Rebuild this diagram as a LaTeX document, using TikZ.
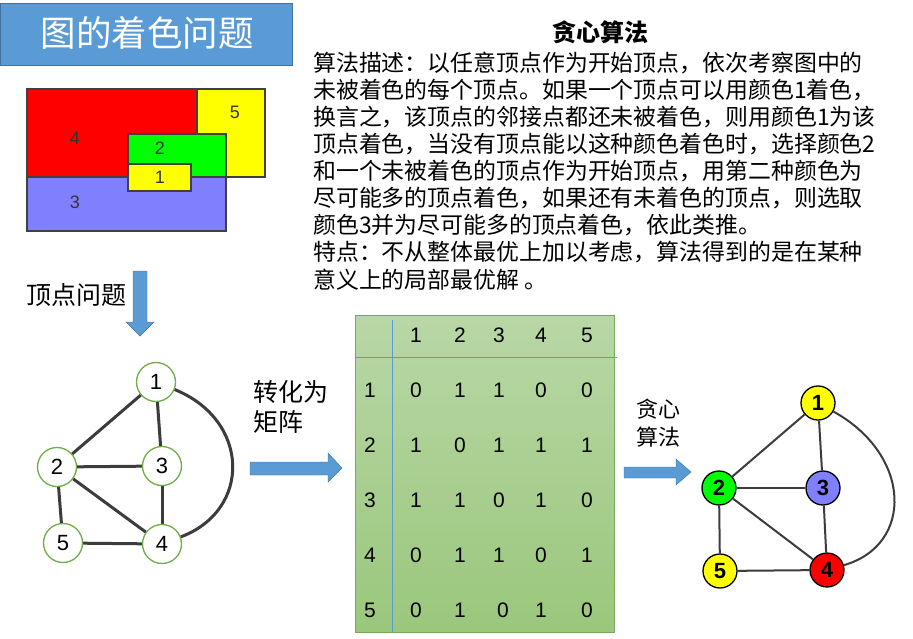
\documentclass[tikz,border=0pt]{standalone}
\usepackage{fontspec}
\setmainfont{Liberation Sans}
\newfontfamily\cjk{Noto Sans CJK SC}
\definecolor{titleblue}{RGB}{91,155,213}
\definecolor{titleborder}{RGB}{65,113,156}
\definecolor{arrowblue}{RGB}{91,155,213}
\definecolor{gborder}{RGB}{112,173,71}
\definecolor{mattop}{RGB}{184,215,166}
\definecolor{matbot}{RGB}{154,199,124}
\definecolor{matborder}{RGB}{120,170,90}
\definecolor{matline}{RGB}{91,155,213}
\definecolor{mapred}{RGB}{255,0,0}
\definecolor{mapyellow}{RGB}{255,255,0}
\definecolor{mapgreen}{RGB}{0,255,0}
\definecolor{mapblue}{RGB}{128,128,255}
\definecolor{edgegray}{RGB}{60,60,60}
\begin{document}
\begin{tikzpicture}[x=1pt,y=-1pt,
  region/.style={draw=black!75, line width=1.5pt},
  maplabel/.style={font=\fontsize{18}{18}\selectfont, text=black!80, inner sep=0pt},
  edge/.style={draw=edgegray, line width=3pt},
  cedge/.style={draw=edgegray, line width=2pt},
  gnode/.style={circle, draw=gborder, line width=1.3pt, fill=white, minimum size=39pt, inner sep=0pt, font=\fontsize{22}{22}\selectfont},
  cnode/.style={circle, draw=black, line width=1.3pt, minimum size=34pt, inner sep=0pt, font=\bfseries\fontsize{22}{22}\selectfont},
  bodytext/.style={anchor=base west, inner sep=0pt, font=\cjk\fontsize{22.9}{27}\selectfont},
  label25/.style={anchor=base west, inner sep=0pt, font=\cjk\fontsize{25}{30}\selectfont},
  label22/.style={anchor=base west, inner sep=0pt, font=\cjk\fontsize{22}{28}\selectfont},
  arrowshape/.style={fill=arrowblue, draw=titleborder, line width=0.4pt},
  matnum/.style={inner sep=0pt, font=\fontsize{21}{21}\selectfont},
  mline/.style={draw=matline, line width=0.8pt}
]
\useasboundingbox (0,0) rectangle (913,639);
\fill[white] (0,0) rectangle (913,639);

% title
\node[fill=titleblue, draw=titleborder, line width=1pt, minimum width=292pt, minimum height=62pt, anchor=north west, inner sep=0pt] (titlebox) at (0,3) {};
\node[inner sep=0pt, text=white, font=\cjk\fontsize{35.5}{36}\selectfont, anchor=base] (title) at (147,46.5) {图的着色问题};

% map
\fill[mapred] (27,89) rectangle (197,177);
\draw[region] (27,89) rectangle (197,177);
\fill[mapyellow] (197,89) rectangle (265,177);
\draw[region] (197,89) rectangle (265,177);
\fill[mapblue] (27,177) rectangle (226,231);
\draw[region] (27,177) rectangle (226,231);
\fill[mapgreen] (128,134) rectangle (226,177);
\draw[region] (128,134) rectangle (226,177);
\fill[mapyellow] (128,164) rectangle (191,191);
\draw[region] (128,164) rectangle (191,191);
\node[maplabel] (m4) at (75,138) {4};
\node[maplabel] (m5) at (235,112) {5};
\node[maplabel] (m2) at (160,148) {2};
\node[maplabel] (m1) at (160,177) {1};
\node[maplabel] (m3) at (75,202) {3};

% down arrow and label
\draw[arrowshape] (133,271) -- (147,271) -- (147,322) -- (154,322) -- (140,336) -- (126,322) -- (133,322) -- cycle;
\node[label25] (vq) at (26,304) {顶点问题};

% left graph
\node[gnode] (a1) at (156,382) {1};
\node[gnode] (a2) at (57,467) {2};
\node[gnode] (a3) at (162,466) {3};
\node[gnode] (a4) at (162,544) {4};
\node[gnode] (a5) at (63,543) {5};
\draw[edge] (a1) -- (a2);
\draw[edge] (a1) -- (a3);
\draw[edge] (a2) -- (a3);
\draw[edge] (a2) -- (a4);
\draw[edge] (a2) -- (a5);
\draw[edge] (a3) -- (a4);
\draw[edge] (a5) -- (a4);
\draw[edge] (a1) .. controls (250,420) and (252,510) .. (a4);

% transform label + arrow
\node[label25] (tr1) at (253,401.5) {转化为};
\node[label25] (tr2) at (253,431.5) {矩阵};
\draw[arrowshape] (250,462) -- (328,462) -- (328,453) -- (342,468) -- (328,482) -- (328,475) -- (250,475) -- cycle;

% matrix
\node[draw=matborder, line width=0.8pt, top color=mattop, bottom color=matbot, minimum width=259pt, minimum height=317pt, anchor=north west, inner sep=0pt] (mat) at (355,315) {};
\draw[mline] (392,320) -- (392,632);
\draw[mline] (355,357) -- (617,357);
\foreach \c/\x in {1/416,2/460,3/499,4/541,5/587}
  \node[matnum] (h\c) at (\x,335) {\c};
\foreach \r/\y in {1/390,2/445,3/500,4/555,5/610}
  \node[matnum] (r\r) at (370,\y) {\r};
\foreach \v [count=\i] in {0,1,1,0,0}
  \node[matnum] (e1\i) at ({\i==1?416:(\i==2?460:(\i==3?499:(\i==4?541:587)))},390) {\v};
\foreach \v [count=\i] in {1,0,1,1,1}
  \node[matnum] (e2\i) at ({\i==1?416:(\i==2?460:(\i==3?499:(\i==4?541:587)))},445) {\v};
\foreach \v [count=\i] in {1,1,0,1,0}
  \node[matnum] (e3\i) at ({\i==1?416:(\i==2?460:(\i==3?499:(\i==4?541:587)))},500) {\v};
\foreach \v [count=\i] in {0,1,1,0,1}
  \node[matnum] (e4\i) at ({\i==1?416:(\i==2?460:(\i==3?499:(\i==4?541:587)))},555) {\v};
\foreach \v [count=\i] in {0,1,0,1,0}
  \node[matnum] (e5\i) at ({\i==1?416:(\i==2?460:(\i==3?503:(\i==4?541:587)))},610) {\v};

% greedy label + arrow
\node[label22] (gr1) at (636,417.4) {贪心};
\node[label22] (gr2) at (636,445.4) {算法};
\draw[arrowshape] (624,467) -- (676,467) -- (676,459) -- (691,472) -- (676,485) -- (676,478) -- (624,478) -- cycle;

% colored graph
\node[cnode, fill=mapyellow] (b1) at (818,403) {1};
\node[cnode, fill=mapgreen] (b2) at (719,488) {2};
\node[cnode, fill=mapblue] (b3) at (823,488) {3};
\node[cnode, fill=mapred] (b4) at (827,570) {4};
\node[cnode, fill=mapyellow] (b5) at (720,571) {5};
\draw[cedge] (b1) -- (b2);
\draw[cedge] (b1) -- (b3);
\draw[cedge] (b2) -- (b3);
\draw[cedge] (b2) -- (b4);
\draw[cedge] (b2) -- (b5);
\draw[cedge] (b3) -- (b4);
\draw[cedge] (b5) -- (b4);
\draw[cedge] (b1) .. controls (912,455) and (914,545) .. (b4);

% description text
\node[inner sep=0pt, anchor=base, font=\cjk\bfseries\fontsize{24}{28}\selectfont] (head) at (600,42) {贪心算法};
\node[bodytext] (t1) at (313,72) {算法描述：以任意顶点作为开始顶点，依次考察图中的};
\node[bodytext] (t2) at (313,99) {未被着色的每个顶点。如果一个顶点可以用颜色1着色，};
\node[bodytext] (t3) at (313,126) {换言之，该顶点的邻接点都还未被着色，则用颜色1为该};
\node[bodytext] (t4) at (313,153) {顶点着色，当没有顶点能以这种颜色着色时，选择颜色2};
\node[bodytext] (t5) at (313,180) {和一个未被着色的顶点作为开始顶点，用第二种颜色为};
\node[bodytext] (t6) at (313,207) {尽可能多的顶点着色，如果还有未着色的顶点，则选取};
\node[bodytext] (t7) at (313,234) {颜色3并为尽可能多的顶点着色，依此类推。};
\node[bodytext] (t8) at (313,261) {特点：不从整体最优上加以考虑，算法得到的是在某种};
\node[bodytext] (t9) at (313,288) {意义上的局部最优解 。};
\end{tikzpicture}
\end{document}
